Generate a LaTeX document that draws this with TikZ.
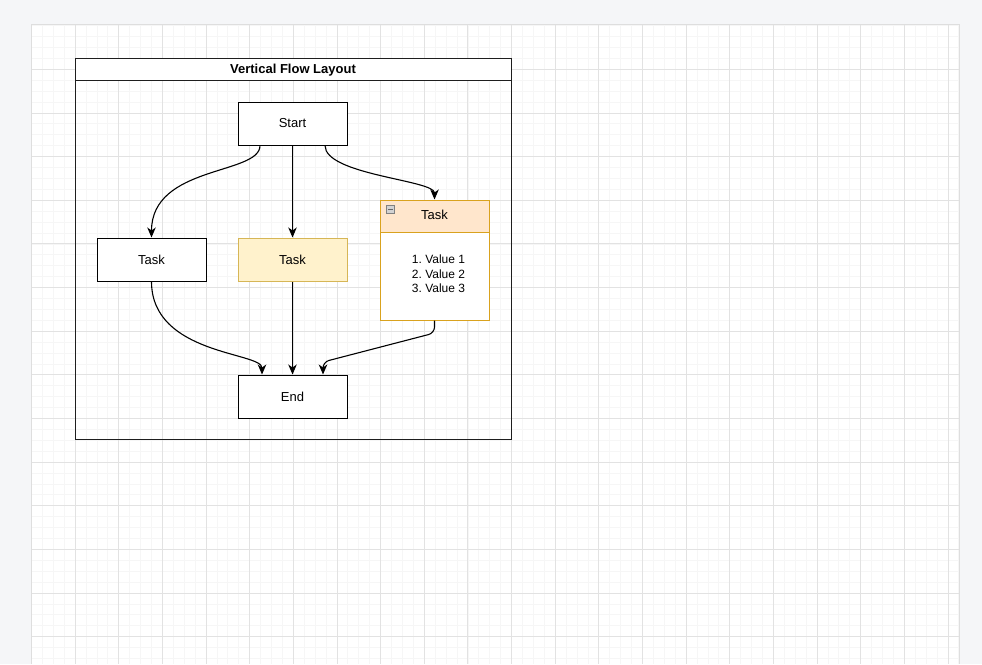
\documentclass[tikz,border=0pt]{standalone}
\usepackage{fontspec}
\setmainfont{Liberation Sans}
\usetikzlibrary{arrows.meta}
\definecolor{bgout}{RGB}{245,246,248}
\definecolor{gridminor}{RGB}{246,246,246}
\definecolor{gridmajor}{RGB}{226,226,226}
\definecolor{pageedge}{RGB}{222,222,222}
\definecolor{yelfill}{HTML}{FFF2CC}
\definecolor{yelline}{HTML}{D6B656}
\definecolor{orfill}{HTML}{FFE6CC}
\definecolor{orline}{HTML}{D9A21E}
\definecolor{contline}{RGB}{30,30,30}
\tikzset{
  box/.style={draw=black, line width=1pt, fill=white, minimum width=109pt, minimum height=43pt, inner sep=0pt, font=\fontsize{13}{15}\selectfont},
  yelbox/.style={box, fill=yelfill, draw=yelline},
  edge/.style={draw=black, line width=1.1pt, -{Stealth[length=10pt,width=8.5pt,inset=3pt]}},
}
\begin{document}
\frenchspacing
\begin{tikzpicture}[x=1pt,y=-1pt]
\useasboundingbox (0,0) rectangle (982,664);
\fill[bgout] (0,0) rectangle (982,664);
\fill[white] (31,24) rectangle (959,664);
% grid
\foreach \i in {0,...,85} {
  \pgfmathsetmacro{\xx}{31.5+10.91*\i}
  \draw[gridminor, line width=0.8pt] (\xx,24) -- (\xx,664);
}
\foreach \i in {0,...,58} {
  \pgfmathsetmacro{\yy}{25.7+10.91*\i}
  \draw[gridminor, line width=0.8pt] (31,\yy) -- (959,\yy);
}
\foreach \i in {1,...,21} {
  \pgfmathsetmacro{\xx}{31.5+43.64*\i}
  \draw[gridmajor, line width=0.9pt] (\xx,24) -- (\xx,664);
}
\foreach \i in {1,...,14} {
  \pgfmathsetmacro{\yy}{25.7+43.64*\i}
  \draw[gridmajor, line width=0.9pt] (31,\yy) -- (959,\yy);
}
\draw[pageedge, line width=1pt] (31,664) -- (31,24) -- (959,24) -- (959,664);
% container
\node[draw=contline, line width=1pt, fill=white, minimum width=436pt, minimum height=22pt, inner sep=0pt] (title) at (293,69) {};
\node[font=\fontsize{13}{15}\selectfont\bfseries, inner sep=0pt] (titletext) at (293,70) {Vertical Flow Layout};
\node[draw=contline, line width=1pt, minimum width=436pt, minimum height=359pt, inner sep=0pt] (cont) at (293,259.5) {};
% nodes
\node[box] (start) at (292.5,123.5) {Start};
\node[box] (task1) at (151.5,259.5) {Task};
\node[yelbox] (task2) at (292.5,259.5) {Task};
\node[box] (finish) at (292.5,396.5) {End};
\node[draw=orline, line width=1pt, fill=white, minimum width=109pt, minimum height=88pt, inner sep=0pt] (task3b) at (434.5,276) {};
\node[draw=orline, line width=1pt, fill=orfill, minimum width=109pt, minimum height=32pt, inner sep=0pt] (task3h) at (434.5,216) {};
\node[inner sep=0pt, font=\fontsize{13}{15}\selectfont] (task3t) at (434.5,215) {Task};
\node[draw=gray, fill=gray!35, line width=0.6pt, minimum width=8.5pt, minimum height=8.5pt, inner sep=0pt] (icon) at (390.5,209.5) {};
\draw[gray!80!black, line width=1.2pt] ([xshift=-2.5pt]icon.center) -- ([xshift=2.5pt]icon.center);
\node[align=left, inner sep=0pt, font=\fontsize{12}{14.5}\selectfont] (list) at (438.5,274) {1. Value 1\\2. Value 2\\3. Value 3};
% edges
\draw[edge] ([xshift=-32.5pt]start.south) .. controls (260,175) and (151.5,165) .. (task1.north);
\draw[edge] (start.south) -- (task2.north);
\draw[edge] ([xshift=32.5pt]start.south) .. controls (325,175) and (434.5,180) .. (task3h.north);
\draw[edge] (task1.south) .. controls (151.5,355) and (262,352) .. ([xshift=-30.5pt]finish.north);
\draw[edge] (task2.south) -- (finish.north);
\draw[edge, rounded corners=6pt] (task3b.south) -- (434.5,333) -- (323,362) -- ([xshift=30.5pt]finish.north);
\end{tikzpicture}
\end{document}
